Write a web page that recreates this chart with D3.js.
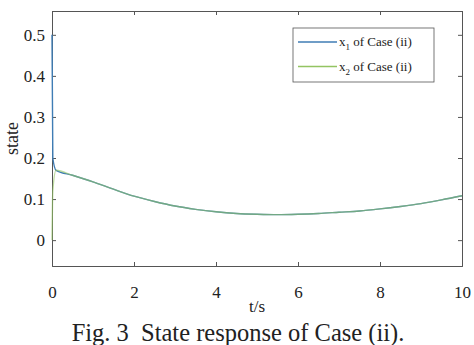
<!DOCTYPE html>
<html lang="en">
<head>
<meta charset="UTF-8">
<title>State response of Case (ii)</title>
<script src="https://d3js.org/d3.v7.min.js"></script>
<style>
  body { margin: 0; background: #fff; }
  text { font-family: "Liberation Serif", "Times New Roman", serif; fill: #222; }
</style>
</head>
<body>
<div id="chart"></div>
<script>
  // data
  const time = [0, 0.02, 0.1, 0.5, 1, 1.5, 2, 2.5, 3, 3.5, 4, 4.5, 5, 5.5, 6, 6.5, 7, 7.5, 8, 8.5, 9, 9.5, 10];
  const x1 = [0.5, 0.2, 0.17, 0.158, 0.142, 0.124, 0.107, 0.094, 0.083, 0.075, 0.069, 0.065, 0.063, 0.062, 0.063, 0.065, 0.068, 0.071, 0.076, 0.082, 0.089, 0.098, 0.108];
  const x2 = [0, 0.12, 0.17, 0.158, 0.142, 0.124, 0.107, 0.094, 0.083, 0.075, 0.069, 0.065, 0.063, 0.062, 0.063, 0.065, 0.068, 0.071, 0.076, 0.082, 0.089, 0.098, 0.108];
  const xTicks = [0, 2, 4, 6, 8, 10];
  const yTicks = [0, 0.1, 0.2, 0.3, 0.4, 0.5];
  const seriesNames = ["x1", "x2"];
  const seriesColors = ["#3f7db5", "#93c462"];

  const W = 474, H = 345;
  const margin = { top: 11, right: 12, bottom: 79, left: 52 };
  const width = W - margin.left - margin.right,
        height = H - margin.top - margin.bottom;

  const svg = d3.select("#chart").append("svg")
      .attr("width", W).attr("height", H);
  const g = svg.append("g")
      .attr("transform", `translate(${margin.left},${margin.top})`);

  const x = d3.scaleLinear().domain([0, 10]).range([0, width]);
  const y = d3.scaleLinear().domain([-0.063, 0.558]).range([height, 0]);

  const axisColor = "#555";

  // box axes with inward ticks (MATLAB style)
  const axBottom = g.append("g").attr("transform", `translate(0,${height})`)
    .call(d3.axisBottom(x).tickValues(xTicks).tickSize(-4).tickPadding(20).tickFormat(d3.format("d")));
  const axTop = g.append("g")
    .call(d3.axisTop(x).tickValues(xTicks).tickSize(-4).tickFormat(""));
  const axLeft = g.append("g")
    .call(d3.axisLeft(y).tickValues(yTicks).tickSize(-4).tickPadding(7).tickFormat(d => d === 0 ? "0" : d3.format(".1f")(d)));
  const axRight = g.append("g").attr("transform", `translate(${width},0)`)
    .call(d3.axisRight(y).tickValues(yTicks).tickSize(-4).tickFormat(""));

  [axBottom, axTop, axLeft, axRight].forEach(a => {
    a.attr("font-family", null);
    a.select(".domain").attr("stroke", axisColor);
    a.selectAll(".tick line").attr("stroke", axisColor);
    a.selectAll("text").style("font-size", "17px").style("font-family", "'Liberation Serif', serif").attr("fill", "#333");
  });

  // lines (x2 drawn over x1, partly see-through so the overlap looks mixed)
  const line = d3.line().x((d, i) => x(time[i])).y(d => y(d)).curve(d3.curveMonotoneX);
  [x1, x2].forEach((s, k) => {
    g.append("path")
      .datum(s)
      .attr("fill", "none")
      .attr("stroke", seriesColors[k])
      .attr("stroke-opacity", k === 1 ? 0.6 : 1)
      .attr("stroke-width", 1.4)
      .attr("d", line);
  });

  // legend
  const lg = svg.append("g").attr("transform", "translate(293,28)");
  lg.append("rect").attr("width", 141).attr("height", 54)
    .attr("fill", "#fff").attr("stroke", "#555").attr("stroke-width", 0.8);
  seriesNames.forEach((n, k) => {
    const yy = 14 + k * 24.5;
    lg.append("line").attr("x1", 5).attr("x2", 44).attr("y1", yy).attr("y2", yy)
      .attr("stroke", seriesColors[k]).attr("stroke-width", 1.3);
    const t = lg.append("text").attr("x", 46).attr("y", yy + 4).style("font-size", "13px");
    t.append("tspan").text("x");
    t.append("tspan").attr("dy", 4).style("font-size", "9px").text(k + 1);
    t.append("tspan").attr("dy", -4).text(" of Case (ii)");
  });

  // axis titles
  svg.append("text")
    .attr("transform", `translate(18,${margin.top + height / 2}) rotate(-90)`)
    .attr("text-anchor", "middle").style("font-size", "18px").text("state");
  svg.append("text")
    .attr("x", margin.left + width / 2).attr("y", 312)
    .attr("text-anchor", "middle").style("font-size", "17px").text("t/s");

  // caption
  svg.append("text")
    .attr("x", 238).attr("y", 341)
    .attr("text-anchor", "middle").style("font-size", "24.5px")
    .attr("xml:space", "preserve")
    .text("Fig. 3  State response of Case (ii).");
</script>
</body>
</html>
